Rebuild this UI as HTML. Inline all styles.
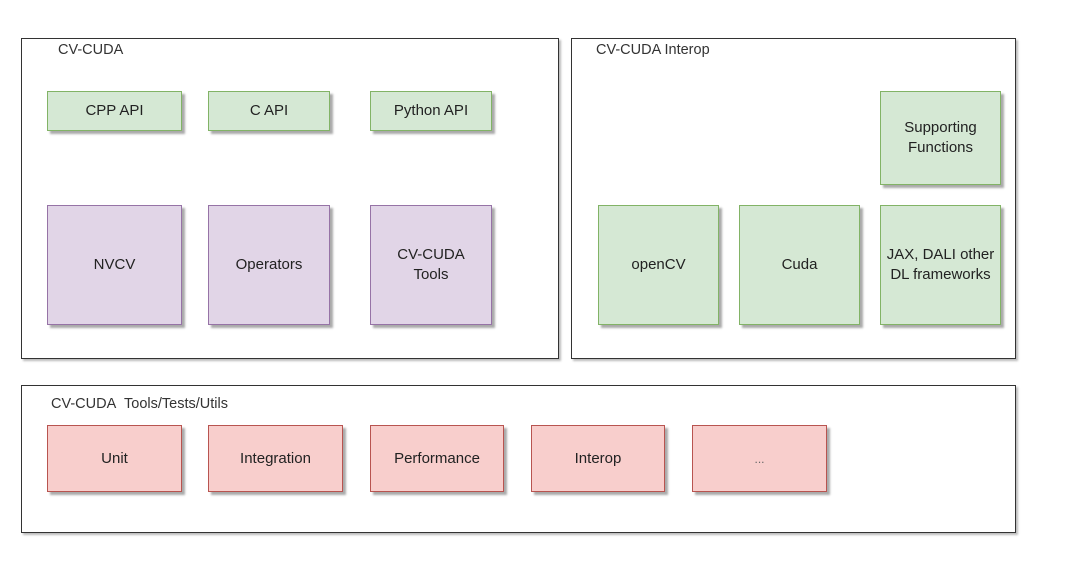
<!DOCTYPE html>
<html><head><style>
body{margin:0;width:1080px;height:572px;background:#fff;position:relative;font-family:"Liberation Sans",sans-serif;color:#222;overflow:hidden}
.c{position:absolute;border:1.5px solid #333;box-shadow:2px 2px 2px #bbb;box-sizing:border-box}
.l{position:absolute;font-size:14.5px;color:#333}
.b{position:absolute;box-sizing:border-box;display:flex;align-items:center;justify-content:center;text-align:center;font-size:15px;line-height:20px;box-shadow:3px 3px 2px #aaa}
.g{background:#d5e8d4;border:1px solid #82b366}
.p{background:#e1d5e7;border:1px solid #9673a6}
.r{background:#f8cecc;border:1px solid #b85450}
</style></head><body>
<div class="c" style="left:21px;top:38px;width:538px;height:321px"></div>
<div class="c" style="left:571px;top:38px;width:445px;height:321px"></div>
<div class="c" style="left:21px;top:385px;width:995px;height:148px"></div>
<div class="l" style="left:58px;top:42px">CV-CUDA</div>
<div class="l" style="left:596px;top:42px">CV-CUDA Interop</div>
<div class="l" style="left:51px;top:396px">CV-CUDA&nbsp; Tools/Tests/Utils</div>

<div class="b g" style="left:47px;top:91px;width:135px;height:40px">CPP API</div>
<div class="b g" style="left:208px;top:91px;width:122px;height:40px">C API</div>
<div class="b g" style="left:370px;top:91px;width:122px;height:40px">Python API</div>

<div class="b p" style="left:47px;top:205px;width:135px;height:120px">NVCV</div>
<div class="b p" style="left:208px;top:205px;width:122px;height:120px">Operators</div>
<div class="b p" style="left:370px;top:205px;width:122px;height:120px">CV-CUDA<br>Tools</div>

<div class="b g" style="left:880px;top:91px;width:121px;height:94px">Supporting<br>Functions</div>
<div class="b g" style="left:598px;top:205px;width:121px;height:120px">openCV</div>
<div class="b g" style="left:739px;top:205px;width:121px;height:120px">Cuda</div>
<div class="b g" style="left:880px;top:205px;width:121px;height:120px">JAX, DALI other<br>DL frameworks</div>

<div class="b r" style="left:47px;top:425px;width:135px;height:67px">Unit</div>
<div class="b r" style="left:208px;top:425px;width:135px;height:67px">Integration</div>
<div class="b r" style="left:370px;top:425px;width:134px;height:67px">Performance</div>
<div class="b r" style="left:531px;top:425px;width:134px;height:67px">Interop</div>
<div class="b r" style="left:692px;top:425px;width:135px;height:67px;font-size:12px;color:#666">...</div>
</body></html>
